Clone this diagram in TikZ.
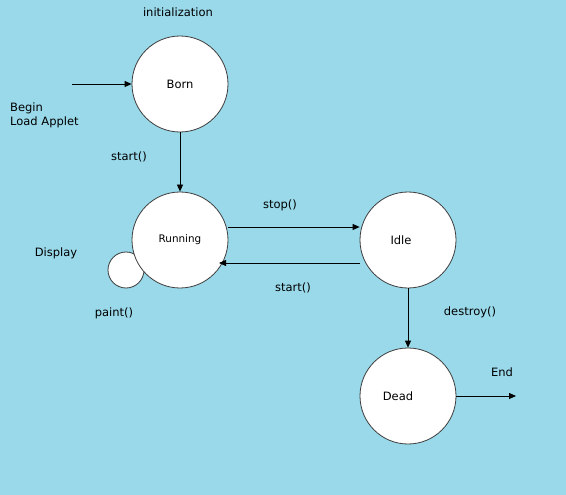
\documentclass[tikz,border=0pt]{standalone}
\usepackage{fontspec}
\setmainfont{DejaVu Sans}
\usetikzlibrary{arrows.meta}
\definecolor{bgblue}{RGB}{153,217,234}
\definecolor{edgegray}{RGB}{60,60,60}
\begin{document}
\begin{tikzpicture}[x=1pt,y=-1pt,
  state/.style={circle,draw=edgegray,fill=white,line width=0.8pt,inner sep=0pt,minimum size=96pt,font=\fontsize{11.5}{13}\selectfont},
  small/.style={circle,draw=edgegray,fill=white,line width=0.8pt,inner sep=0pt,minimum size=36pt},
  lbl/.style={inner sep=0pt,font=\fontsize{11.5}{14}\selectfont},
  conn/.style={line width=0.8pt,-{Triangle[length=7pt,width=6pt]}}]
\fill[bgblue] (0,0) rectangle (566,495);
\useasboundingbox (0,0) rectangle (566,495);
\node[small] (paint) at (126,270) {};
\node[state] (born) at (180,84) {Born};
\node[state,font=\fontsize{10.4}{12}\selectfont] (run) at (180,240) {Running};
\node[state] (idle) at (408,240) {\hspace*{-14pt}Idle};
\node[state] (dead) at (408,396) {\hspace*{-20pt}Dead};
\coordinate (bgn) at (72,84);
\coordinate (endc) at (516,396);
\draw[conn] (bgn) -- (born.west);
\draw[conn] (born.south) -- (run.north);
\draw[conn] (run.east |- 0,227) -- (idle.west |- 0,227);
\draw[conn] (idle.west |- 0,263) -- (219,263);
\draw[conn] (idle.south) -- (dead.north);
\draw[conn] (dead.east) -- (endc);
\node[lbl] (tinit) at (178,12) {initialization};
\node[lbl,align=left,anchor=west] (tbegin) at (10,115.5) {Begin\\Load Applet};
\node[lbl] (tstart1) at (129,157) {start()};
\node[lbl] (tstop) at (280,205) {stop()};
\node[lbl] (tstart2) at (293,288) {start()};
\node[lbl] (tdisp) at (56,253) {Display};
\node[lbl] (tpaint) at (114,313) {paint()};
\node[lbl] (tdestroy) at (470,312) {destroy()};
\node[lbl] (tend) at (502,372) {End};
\end{tikzpicture}
\end{document}
